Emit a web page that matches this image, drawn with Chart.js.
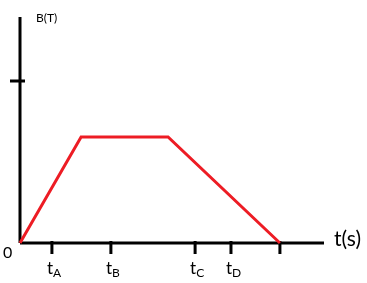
<!DOCTYPE html>
<html lang="en">
<head>
    <meta charset="UTF-8">
    <title>B(T) vs t</title>
    <script src="https://cdn.jsdelivr.net/npm/chart.js"></script>
    <style>
        html, body { margin: 0; padding: 0; background: #fff; }
        canvas { display: block; }
    </style>
</head>
<body>
    <canvas id="fieldChart" width="367" height="283"></canvas>

    <script>
        // data (arbitrary units)
        const timeValues = [0, 2.01, 4.87, 8.55];
        const fieldValues = [0, 4.69, 4.69, 0];
        const timeTicks = [1.05, 2.99, 5.76, 6.94, 8.55];
        const timeTickLabels = ['A', 'B', 'C', 'D', ''];
        const fieldTicks = [7.17];
        const xMax = 10;
        const yMax = 10;

        const FONT = 'Lato, "Open Sans", sans-serif';

        // hand-drawn style axes, ticks and labels
        const sketchAxes = {
            id: 'sketchAxes',
            beforeDatasetsDraw(chart) {
                const ctx = chart.ctx;
                const x = chart.scales.x;
                const y = chart.scales.y;
                const x0 = x.getPixelForValue(0);
                const y0 = y.getPixelForValue(0);

                ctx.save();
                ctx.strokeStyle = '#000';
                ctx.lineWidth = 3;
                ctx.beginPath();
                ctx.moveTo(x0, y.getPixelForValue(yMax));
                ctx.lineTo(x0, y0);
                ctx.moveTo(x0, y0);
                ctx.lineTo(x.getPixelForValue(xMax), y0);

                fieldTicks.forEach(v => {
                    const py = y.getPixelForValue(v);
                    ctx.moveTo(x0 - 10, py);
                    ctx.lineTo(x0 + 5, py);
                });
                timeTicks.forEach(v => {
                    const px = x.getPixelForValue(v);
                    ctx.moveTo(px, y0 - 2);
                    ctx.lineTo(px, y0 + 11);
                });
                ctx.stroke();

                ctx.fillStyle = '#000';
                ctx.textBaseline = 'alphabetic';
                ctx.textAlign = 'left';

                timeTicks.forEach((v, i) => {
                    if (!timeTickLabels[i]) return;
                    const px = x.getPixelForValue(v) - 5;
                    ctx.font = '17px ' + FONT;
                    ctx.fillText('t', px, y0 + 31);
                    const w = ctx.measureText('t').width;
                    ctx.font = '12px ' + FONT;
                    ctx.fillText(timeTickLabels[i], px + w, y0 + 34);
                });

                ctx.font = '16px ' + FONT;
                ctx.fillText('0', x0 - 17, y0 + 15);

                ctx.font = '21px ' + FONT;
                ctx.fillText('t(s)', x.getPixelForValue(xMax) + 10, y0 + 3);

                ctx.font = '12px ' + FONT;
                ctx.fillText('B(T)', x0 + 16, y.getPixelForValue(yMax) + 5);
                ctx.restore();
            }
        };

        new Chart(document.getElementById('fieldChart'), {
            type: 'line',
            data: {
                datasets: [{
                    data: timeValues.map((t, i) => ({ x: t, y: fieldValues[i] })),
                    borderColor: '#ed1c24',
                    borderWidth: 3,
                    pointRadius: 0,
                    tension: 0,
                    clip: false
                }]
            },
            options: {
                responsive: false,
                animation: false,
                layout: { padding: { left: 20, top: 17, right: 43, bottom: 40 } },
                plugins: { legend: { display: false }, tooltip: { enabled: false } },
                scales: {
                    x: { type: 'linear', min: 0, max: xMax, display: false },
                    y: { min: 0, max: yMax, display: false }
                }
            },
            plugins: [sketchAxes]
        });
    </script>
</body>
</html>
